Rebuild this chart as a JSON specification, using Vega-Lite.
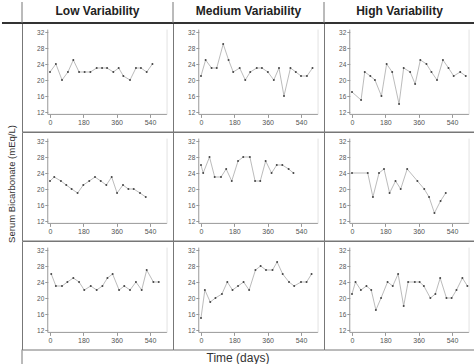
{
  "$schema": "https://vega.github.io/schema/vega-lite/v6.json",
  "padding": 0,
  "bounds": "flush",
  "background": "white",
  "data": {"values": [
    {"group":"Low Variability","patient":1,"day":0,"bicarb":22},
    {"group":"Low Variability","patient":1,"day":32,"bicarb":24},
    {"group":"Low Variability","patient":1,"day":65,"bicarb":20},
    {"group":"Low Variability","patient":1,"day":97,"bicarb":22},
    {"group":"Low Variability","patient":1,"day":126,"bicarb":25},
    {"group":"Low Variability","patient":1,"day":157,"bicarb":22},
    {"group":"Low Variability","patient":1,"day":187,"bicarb":22},
    {"group":"Low Variability","patient":1,"day":218,"bicarb":22},
    {"group":"Low Variability","patient":1,"day":252,"bicarb":23},
    {"group":"Low Variability","patient":1,"day":281,"bicarb":23},
    {"group":"Low Variability","patient":1,"day":308,"bicarb":23},
    {"group":"Low Variability","patient":1,"day":342,"bicarb":22},
    {"group":"Low Variability","patient":1,"day":371,"bicarb":23},
    {"group":"Low Variability","patient":1,"day":396,"bicarb":21},
    {"group":"Low Variability","patient":1,"day":432,"bicarb":20},
    {"group":"Low Variability","patient":1,"day":464,"bicarb":23},
    {"group":"Low Variability","patient":1,"day":491,"bicarb":23},
    {"group":"Low Variability","patient":1,"day":522,"bicarb":22},
    {"group":"Low Variability","patient":1,"day":553,"bicarb":24},

    {"group":"Medium Variability","patient":1,"day":0,"bicarb":21},
    {"group":"Medium Variability","patient":1,"day":25,"bicarb":25},
    {"group":"Medium Variability","patient":1,"day":57,"bicarb":23},
    {"group":"Medium Variability","patient":1,"day":85,"bicarb":23},
    {"group":"Medium Variability","patient":1,"day":120,"bicarb":29},
    {"group":"Medium Variability","patient":1,"day":149,"bicarb":25},
    {"group":"Medium Variability","patient":1,"day":174,"bicarb":22},
    {"group":"Medium Variability","patient":1,"day":209,"bicarb":23},
    {"group":"Medium Variability","patient":1,"day":239,"bicarb":20},
    {"group":"Medium Variability","patient":1,"day":266,"bicarb":22},
    {"group":"Medium Variability","patient":1,"day":301,"bicarb":23},
    {"group":"Medium Variability","patient":1,"day":329,"bicarb":23},
    {"group":"Medium Variability","patient":1,"day":361,"bicarb":22},
    {"group":"Medium Variability","patient":1,"day":393,"bicarb":20},
    {"group":"Medium Variability","patient":1,"day":421,"bicarb":23},
    {"group":"Medium Variability","patient":1,"day":448,"bicarb":16},
    {"group":"Medium Variability","patient":1,"day":483,"bicarb":23},
    {"group":"Medium Variability","patient":1,"day":512,"bicarb":22},
    {"group":"Medium Variability","patient":1,"day":540,"bicarb":21},
    {"group":"Medium Variability","patient":1,"day":572,"bicarb":21},
    {"group":"Medium Variability","patient":1,"day":602,"bicarb":23},

    {"group":"High Variability","patient":1,"day":0,"bicarb":17},
    {"group":"High Variability","patient":1,"day":49,"bicarb":15},
    {"group":"High Variability","patient":1,"day":69,"bicarb":22},
    {"group":"High Variability","patient":1,"day":99,"bicarb":21},
    {"group":"High Variability","patient":1,"day":124,"bicarb":20},
    {"group":"High Variability","patient":1,"day":159,"bicarb":16},
    {"group":"High Variability","patient":1,"day":187,"bicarb":24},
    {"group":"High Variability","patient":1,"day":217,"bicarb":22},
    {"group":"High Variability","patient":1,"day":254,"bicarb":14},
    {"group":"High Variability","patient":1,"day":279,"bicarb":23},
    {"group":"High Variability","patient":1,"day":314,"bicarb":22},
    {"group":"High Variability","patient":1,"day":341,"bicarb":19},
    {"group":"High Variability","patient":1,"day":369,"bicarb":25},
    {"group":"High Variability","patient":1,"day":402,"bicarb":24},
    {"group":"High Variability","patient":1,"day":429,"bicarb":22},
    {"group":"High Variability","patient":1,"day":459,"bicarb":20},
    {"group":"High Variability","patient":1,"day":491,"bicarb":25},
    {"group":"High Variability","patient":1,"day":521,"bicarb":23},
    {"group":"High Variability","patient":1,"day":549,"bicarb":21},
    {"group":"High Variability","patient":1,"day":584,"bicarb":22},
    {"group":"High Variability","patient":1,"day":614,"bicarb":21},

    {"group":"Low Variability","patient":2,"day":0,"bicarb":22},
    {"group":"Low Variability","patient":2,"day":23,"bicarb":23},
    {"group":"Low Variability","patient":2,"day":59,"bicarb":22},
    {"group":"Low Variability","patient":2,"day":88,"bicarb":21},
    {"group":"Low Variability","patient":2,"day":117,"bicarb":20},
    {"group":"Low Variability","patient":2,"day":149,"bicarb":19},
    {"group":"Low Variability","patient":2,"day":180,"bicarb":21},
    {"group":"Low Variability","patient":2,"day":212,"bicarb":22},
    {"group":"Low Variability","patient":2,"day":243,"bicarb":23},
    {"group":"Low Variability","patient":2,"day":274,"bicarb":22},
    {"group":"Low Variability","patient":2,"day":304,"bicarb":21},
    {"group":"Low Variability","patient":2,"day":333,"bicarb":23},
    {"group":"Low Variability","patient":2,"day":362,"bicarb":19},
    {"group":"Low Variability","patient":2,"day":394,"bicarb":21},
    {"group":"Low Variability","patient":2,"day":423,"bicarb":20},
    {"group":"Low Variability","patient":2,"day":452,"bicarb":20},
    {"group":"Low Variability","patient":2,"day":486,"bicarb":19},
    {"group":"Low Variability","patient":2,"day":517,"bicarb":18},

    {"group":"Medium Variability","patient":2,"day":0,"bicarb":26},
    {"group":"Medium Variability","patient":2,"day":12,"bicarb":24},
    {"group":"Medium Variability","patient":2,"day":46,"bicarb":28},
    {"group":"Medium Variability","patient":2,"day":74,"bicarb":23},
    {"group":"Medium Variability","patient":2,"day":108,"bicarb":23},
    {"group":"Medium Variability","patient":2,"day":136,"bicarb":25},
    {"group":"Medium Variability","patient":2,"day":166,"bicarb":22},
    {"group":"Medium Variability","patient":2,"day":200,"bicarb":27},
    {"group":"Medium Variability","patient":2,"day":228,"bicarb":28},
    {"group":"Medium Variability","patient":2,"day":264,"bicarb":28},
    {"group":"Medium Variability","patient":2,"day":292,"bicarb":22},
    {"group":"Medium Variability","patient":2,"day":320,"bicarb":22},
    {"group":"Medium Variability","patient":2,"day":349,"bicarb":27},
    {"group":"Medium Variability","patient":2,"day":381,"bicarb":24},
    {"group":"Medium Variability","patient":2,"day":409,"bicarb":26},
    {"group":"Medium Variability","patient":2,"day":439,"bicarb":26},
    {"group":"Medium Variability","patient":2,"day":473,"bicarb":25},
    {"group":"Medium Variability","patient":2,"day":499,"bicarb":24},

    {"group":"High Variability","patient":2,"day":0,"bicarb":24},
    {"group":"High Variability","patient":2,"day":85,"bicarb":24},
    {"group":"High Variability","patient":2,"day":113,"bicarb":18},
    {"group":"High Variability","patient":2,"day":146,"bicarb":24},
    {"group":"High Variability","patient":2,"day":173,"bicarb":25},
    {"group":"High Variability","patient":2,"day":203,"bicarb":19},
    {"group":"High Variability","patient":2,"day":235,"bicarb":22},
    {"group":"High Variability","patient":2,"day":263,"bicarb":20},
    {"group":"High Variability","patient":2,"day":298,"bicarb":25},
    {"group":"High Variability","patient":2,"day":353,"bicarb":22},
    {"group":"High Variability","patient":2,"day":390,"bicarb":20},
    {"group":"High Variability","patient":2,"day":416,"bicarb":18},
    {"group":"High Variability","patient":2,"day":445,"bicarb":14},
    {"group":"High Variability","patient":2,"day":478,"bicarb":17},
    {"group":"High Variability","patient":2,"day":506,"bicarb":19},

    {"group":"Low Variability","patient":3,"day":7,"bicarb":26},
    {"group":"Low Variability","patient":3,"day":32,"bicarb":23},
    {"group":"Low Variability","patient":3,"day":65,"bicarb":23},
    {"group":"Low Variability","patient":3,"day":94,"bicarb":24},
    {"group":"Low Variability","patient":3,"day":126,"bicarb":25},
    {"group":"Low Variability","patient":3,"day":157,"bicarb":24},
    {"group":"Low Variability","patient":3,"day":185,"bicarb":22},
    {"group":"Low Variability","patient":3,"day":220,"bicarb":23},
    {"group":"Low Variability","patient":3,"day":252,"bicarb":22},
    {"group":"Low Variability","patient":3,"day":283,"bicarb":23},
    {"group":"Low Variability","patient":3,"day":310,"bicarb":25},
    {"group":"Low Variability","patient":3,"day":338,"bicarb":26},
    {"group":"Low Variability","patient":3,"day":373,"bicarb":22},
    {"group":"Low Variability","patient":3,"day":401,"bicarb":23},
    {"group":"Low Variability","patient":3,"day":432,"bicarb":22},
    {"group":"Low Variability","patient":3,"day":464,"bicarb":24},
    {"group":"Low Variability","patient":3,"day":495,"bicarb":22},
    {"group":"Low Variability","patient":3,"day":522,"bicarb":27},
    {"group":"Low Variability","patient":3,"day":558,"bicarb":24},
    {"group":"Low Variability","patient":3,"day":587,"bicarb":24},

    {"group":"Medium Variability","patient":3,"day":0,"bicarb":15},
    {"group":"Medium Variability","patient":3,"day":21,"bicarb":22},
    {"group":"Medium Variability","patient":3,"day":50,"bicarb":19},
    {"group":"Medium Variability","patient":3,"day":78,"bicarb":20},
    {"group":"Medium Variability","patient":3,"day":113,"bicarb":21},
    {"group":"Medium Variability","patient":3,"day":142,"bicarb":24},
    {"group":"Medium Variability","patient":3,"day":170,"bicarb":22},
    {"group":"Medium Variability","patient":3,"day":200,"bicarb":23},
    {"group":"Medium Variability","patient":3,"day":230,"bicarb":24},
    {"group":"Medium Variability","patient":3,"day":260,"bicarb":22},
    {"group":"Medium Variability","patient":3,"day":294,"bicarb":27},
    {"group":"Medium Variability","patient":3,"day":322,"bicarb":28},
    {"group":"Medium Variability","patient":3,"day":351,"bicarb":27},
    {"group":"Medium Variability","patient":3,"day":386,"bicarb":27},
    {"group":"Medium Variability","patient":3,"day":411,"bicarb":29},
    {"group":"Medium Variability","patient":3,"day":441,"bicarb":26},
    {"group":"Medium Variability","patient":3,"day":475,"bicarb":24},
    {"group":"Medium Variability","patient":3,"day":503,"bicarb":23},
    {"group":"Medium Variability","patient":3,"day":540,"bicarb":24},
    {"group":"Medium Variability","patient":3,"day":570,"bicarb":24},
    {"group":"Medium Variability","patient":3,"day":597,"bicarb":26},

    {"group":"High Variability","patient":3,"day":0,"bicarb":21},
    {"group":"High Variability","patient":3,"day":19,"bicarb":24},
    {"group":"High Variability","patient":3,"day":48,"bicarb":22},
    {"group":"High Variability","patient":3,"day":78,"bicarb":23},
    {"group":"High Variability","patient":3,"day":104,"bicarb":22},
    {"group":"High Variability","patient":3,"day":129,"bicarb":17},
    {"group":"High Variability","patient":3,"day":157,"bicarb":20},
    {"group":"High Variability","patient":3,"day":192,"bicarb":24},
    {"group":"High Variability","patient":3,"day":220,"bicarb":23},
    {"group":"High Variability","patient":3,"day":249,"bicarb":26},
    {"group":"High Variability","patient":3,"day":279,"bicarb":18},
    {"group":"High Variability","patient":3,"day":303,"bicarb":24},
    {"group":"High Variability","patient":3,"day":339,"bicarb":24},
    {"group":"High Variability","patient":3,"day":365,"bicarb":24},
    {"group":"High Variability","patient":3,"day":388,"bicarb":23},
    {"group":"High Variability","patient":3,"day":423,"bicarb":20},
    {"group":"High Variability","patient":3,"day":450,"bicarb":21},
    {"group":"High Variability","patient":3,"day":476,"bicarb":25},
    {"group":"High Variability","patient":3,"day":510,"bicarb":20},
    {"group":"High Variability","patient":3,"day":538,"bicarb":20},
    {"group":"High Variability","patient":3,"day":564,"bicarb":22},
    {"group":"High Variability","patient":3,"day":596,"bicarb":25},
    {"group":"High Variability","patient":3,"day":623,"bicarb":23}
  ]},
  "facet": {
    "column": {
      "field": "group", "type": "nominal",
      "sort": ["Low Variability", "Medium Variability", "High Variability"],
      "header": {
        "title": "Time (days)", "titleOrient": "bottom", "labelOrient": "top",
        "labelFontSize": 12, "labelFontWeight": "bold", "labelColor": "#222",
        "labelPadding": 5,
        "titleFontSize": 12, "titleFontWeight": "normal", "titleColor": "#333",
        "titlePadding": -7
      }
    },
    "row": {
      "field": "patient", "type": "ordinal",
      "header": {
        "title": "Serum Bicarbonate (mEq/L)", "titleOrient": "left", "labels": false,
        "titleFontSize": 9.5, "titleFontWeight": "normal", "titleColor": "#333",
        "titlePadding": -4
      }
    }
  },
  "spacing": 0,
  "resolve": {"axis": {"x": "independent", "y": "independent"}},
  "spec": {
    "width": 151,
    "height": 108.5,
    "layer": [
      {
        "transform": [{"filter": "datum.patient == 1"}, {"aggregate": [{"op": "count", "as": "n"}], "groupby": ["group", "patient"]}],
        "mark": {"type": "rule", "color": "#333", "strokeWidth": 2},
        "encoding": {
          "x": {"datum": -259, "type": "quantitative", "scale": {"domain": [-151, 664], "nice": false, "zero": false}},
          "x2": {"datum": 664},
          "y": {"datum": 34.25, "type": "quantitative", "scale": {"domain": [7.125, 34.25], "nice": false, "zero": false}}
        }
      },
      {
        "transform": [{"filter": "datum.patient == 1"}, {"aggregate": [{"op": "count", "as": "n"}], "groupby": ["group", "patient"]}],
        "mark": {"type": "rule", "color": "#777", "strokeWidth": 1},
        "encoding": {
          "x": {"datum": -151, "type": "quantitative", "scale": {"domain": [-151, 664], "nice": false, "zero": false}},
          "y": {"datum": 34.25, "type": "quantitative", "scale": {"domain": [7.125, 34.25], "nice": false, "zero": false}},
          "y2": {"datum": 39.5}
        }
      },
      {
        "transform": [{"filter": "datum.patient == 3 && datum.group == 'Low Variability'"}, {"aggregate": [{"op": "count", "as": "n"}], "groupby": ["group", "patient"]}],
        "mark": {"type": "rule", "color": "#777", "strokeWidth": 1},
        "encoding": {
          "x": {"datum": -151, "type": "quantitative", "scale": {"domain": [-151, 664], "nice": false, "zero": false}},
          "y": {"datum": 7.125, "type": "quantitative", "scale": {"domain": [7.125, 34.25], "nice": false, "zero": false}},
          "y2": {"datum": 3.2}
        }
      },
      {
        "transform": [{"aggregate": [{"op": "count", "as": "n"}], "groupby": ["group", "patient"]}],
        "mark": {"type": "rule", "color": "#999", "strokeWidth": 1},
        "encoding": {
          "x": {"datum": -12, "type": "quantitative", "scale": {"domain": [-151, 664], "nice": false, "zero": false}},
          "y": {"datum": 11.4, "type": "quantitative", "scale": {"domain": [7.125, 34.25], "nice": false, "zero": false}},
          "y2": {"datum": 32.6}
        }
      },
      {
        "transform": [{"aggregate": [{"op": "count", "as": "n"}], "groupby": ["group", "patient"]}],
        "mark": {"type": "rule", "color": "#999", "strokeWidth": 1},
        "encoding": {
          "x": {"datum": -12, "type": "quantitative", "scale": {"domain": [-151, 664], "nice": false, "zero": false}},
          "x2": {"datum": 632},
          "y": {"datum": 11.4, "type": "quantitative", "scale": {"domain": [7.125, 34.25], "nice": false, "zero": false}}
        }
      },
      {
        "transform": [{"aggregate": [{"op": "count", "as": "n"}], "groupby": ["group", "patient"]}],
        "mark": {"type": "rule", "color": "#e2e2e2", "strokeWidth": 1},
        "encoding": {
          "x": {"datum": 632, "type": "quantitative", "scale": {"domain": [-151, 664], "nice": false, "zero": false}},
          "y": {"datum": 11.4, "type": "quantitative", "scale": {"domain": [7.125, 34.25], "nice": false, "zero": false}},
          "y2": {"datum": 32.6}
        }
      },
      {
        "mark": {"type": "line", "color": "#aaa", "strokeWidth": 0.8},
        "encoding": {
          "x": {
            "field": "day", "type": "quantitative",
            "scale": {"domain": [-151, 664], "nice": false, "zero": false},
            "axis": {"values": [0, 180, 360, 540], "tickCount": 12, "offset": -17.1, "domain": false, "grid": false,
                     "tickSize": 3, "tickColor": "#999", "labelFontSize": 7, "labelColor": "#555",
                     "labelPadding": 1, "title": null, "labelFlush": false, "labelOverlap": false}
          },
          "y": {
            "field": "bicarb", "type": "quantitative",
            "scale": {"domain": [7.125, 34.25], "nice": false, "zero": false},
            "axis": {"values": [12, 16, 20, 24, 28, 32], "tickCount": 12, "offset": -25.8, "domain": false, "grid": false,
                     "tickSize": 3, "tickColor": "#999", "labelFontSize": 6.5, "labelColor": "#555",
                     "labelPadding": 1, "title": null, "labelFlush": false, "labelOverlap": false}
          }
        }
      },
      {
        "mark": {"type": "point", "filled": true, "color": "#444", "size": 4, "opacity": 1},
        "encoding": {
          "x": {"field": "day", "type": "quantitative", "scale": {"domain": [-151, 664], "nice": false, "zero": false}},
          "y": {"field": "bicarb", "type": "quantitative", "scale": {"domain": [7.125, 34.25], "nice": false, "zero": false}}
        }
      }
    ]
  },
  "config": {
    "font": "Liberation Sans",
    "view": {"stroke": "#777", "strokeWidth": 1},
    "axis": {"labelFont": "Liberation Sans"},
    "header": {"labelFont": "Liberation Sans", "titleFont": "Liberation Sans"}
  }
}
